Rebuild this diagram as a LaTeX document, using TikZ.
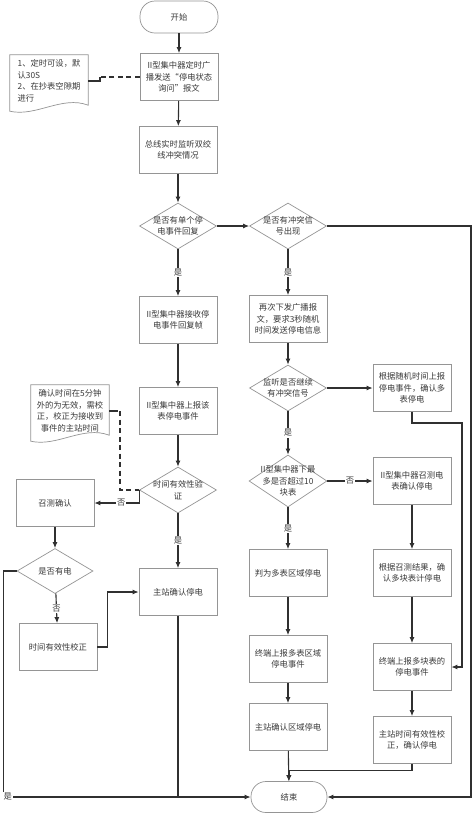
\documentclass[tikz,border=0pt]{standalone}
\usepackage{fontspec}
\setmainfont{Noto Sans CJK SC}
\usetikzlibrary{arrows.meta,shapes.geometric,calc}
\definecolor{boxgray}{HTML}{959595}
\definecolor{txt}{HTML}{3A3A3A}
\definecolor{conncol}{HTML}{303030}
\begin{document}
\begin{tikzpicture}[x=1pt,y=-1pt,
  box/.style={draw=boxgray, line width=0.7pt, minimum width=78pt, minimum height=47pt, align=center, font=\fontsize{8.3}{11.5}\selectfont, text=txt, inner sep=1pt},
  term/.style={box, rounded corners=15pt, minimum height=32pt},
  dec/.style={diamond, draw=boxgray, line width=0.7pt, minimum width=77pt, minimum height=46pt, inner sep=0pt},
  dtext/.style={align=center, font=\fontsize{8.3}{11.5}\selectfont, text=txt, inner sep=0pt},
  notebox/.style={minimum width=78pt, minimum height=52pt, align=left, font=\fontsize{8.3}{11.5}\selectfont, text=txt, inner sep=1pt},
  conn/.style={draw=conncol, line width=1.1pt, -{Latex[length=6pt,width=5pt]}},
  plain/.style={draw=conncol, line width=1.1pt},
  dashln/.style={draw=conncol, line width=1.1pt, dash pattern=on 5pt off 3.5pt},
  lbl/.style={fill=white, font=\fontsize{8.3}{9}\selectfont, text=txt, inner sep=1pt},
  docshape/.style={draw=boxgray, line width=0.7pt}
]
\useasboundingbox[fill=white] (0,0) rectangle (474,815);

% left/centre column
\node[term] (start) at (179,17) {开始};
\node[box] (b1) at (179,77) {II型集中器定时广\\播发送“停电状态\\询问”报文};
\node[notebox] (n1) at (49,81) {1、定时可设，默\\认30S\\2、在抄表空隙期\\进行};
\node[box] (b2) at (178,150) {总线实时监听双绞\\线冲突情况};
\node[dec, label={[dtext]center:是否有单个停\\电事件回复}] (d1) at (178,226) {};
\node[dec, label={[dtext]center:是否有冲突信\\号出现}] (d2) at (288,226) {};
\node[box] (b3) at (178,320) {II型集中器接收停\\电事件回复帧};
\node[box] (b4) at (178,411) {II型集中器上报该\\表停电事件};
\node[notebox, align=center] (n2) at (70,411) {确认时间在5分钟\\外的为无效，需校\\正，校正为接收到\\事件的主站时间};
\node[dec, label={[dtext]center:时间有效性验\\证}] (d3) at (178,490) {};
\node[box] (zc) at (55,503) {召测确认};
\node[dec, minimum width=76pt, minimum height=45pt, label={[dtext]center:是否有电}] (d4) at (55,571) {};
\node[box] (jz) at (58,647) {时间有效性校正};
\node[box] (zq) at (178,592) {主站确认停电};

% right columns
\node[box] (b5) at (288,319) {再次下发广播报\\文，要求3秒随机\\时间发送停电信息};
\node[dec, label={[dtext]center:监听是否继续\\有冲突信号}] (d5) at (288,388) {};
\node[box] (b6) at (412,388) {根据随机时间上报\\停电事件，确认多\\表停电};
\node[dec, minimum width=78pt, minimum height=52pt, label={[dtext]center:II型集中器下最\\多是否超过10\\块表}] (d6) at (288,481) {};
\node[box] (b7) at (412,481) {II型集中器召测电\\表确认停电};
\node[box] (b8) at (412,573) {根据召测结果，确\\认多块表计停电};
\node[box] (b9) at (412,667) {终端上报多块表的\\停电事件};
\node[box] (b10) at (412,740) {主站时间有效性校\\正，确认停电};
\node[box] (b11) at (288,573) {判为多表区域停电};
\node[box] (b12) at (288,659) {终端上报多表区域\\停电事件};
\node[box] (b13) at (288,727) {主站确认区域停电};
\node[term, minimum width=76pt, minimum height=31pt] (end) at (289,797) {结束};

% document shapes
\draw[docshape] (n1.south west) -- (n1.north west) -- (n1.north east) -- ($(n1.south east)+(0,-2)$)
  .. controls ($(n1.south east)+(-26,-12)$) and ($(n1.south west)+(26,10)$) .. ($(n1.south west)+(0,4)$) -- cycle;
\draw[docshape] (n2.south west) -- (n2.north west) -- (n2.north east) -- ($(n2.south east)+(0,-2)$)
  .. controls ($(n2.south east)+(-26,-12)$) and ($(n2.south west)+(26,10)$) .. ($(n2.south west)+(0,4)$) -- cycle;

\coordinate (k1) at (100,77);
\coordinate (k2) at (120,411);
\coordinate (rc) at (471,226);
\coordinate (rc2) at (462,423);

% annotation links
\draw[dashln] (b1.west) -- (k1);
\draw[plain] (k1) |- (n1.east);
\draw[plain] (n2.east) -- ($(k2)+(-2,0)$);
\draw[dashln] (k2) |- (d3.west);

% connectors
\draw[conn] (start) -- (b1);
\draw[conn] (b1) -- (b2);
\draw[conn] (b2) -- (d1);
\draw[conn] (d1) -- (d2);
\draw[conn] (d1) -- node[lbl]{是} (b3);
\draw[conn] (b3) -- (b4);
\draw[conn] (b4) -- (d3);
\draw[conn] (d3) -- node[lbl]{是} (zq);
\draw[conn] (d3.west) |- node[lbl, pos=0.7]{否} (zc.east);
\draw[conn] (zc) -- (d4);
\draw[conn] (d4) -- node[lbl]{否} (jz);
\draw[conn] (jz.east) -- ++(10,0) |- (zq.west);
\draw[conn] (d4.west) -- ++(-13,0) |- node[lbl, pos=0.5, xshift=4pt]{是} (end.west);
\draw[plain] (zq.south) -- (zq.south |- end.west);

\draw[conn] (d2) -- node[lbl]{是} (b5);
\draw[conn] (d2.east) -- (rc) |- (end.east);
\draw[conn] (b5) -- (d5);
\draw[conn] (d5) -- (b6);
\draw[conn] (d5) -- node[lbl]{是} (d6);
\draw[conn] (b6.south) |- (rc2) |- (b9.east);
\draw[conn] (d6) -- node[lbl]{否} (b7);
\draw[conn] (d6) -- node[lbl]{是} (b11);
\draw[conn] (b7) -- (b8);
\draw[conn] (b8) -- (b9);
\draw[conn] (b9) -- (b10);
\draw[conn] (b10.south) -- ++(0,7) -| (end.north);
\draw[conn] (b11) -- (b12);
\draw[conn] (b12) -- (b13);
\draw[conn] (b13) -- (end);
\end{tikzpicture}
\end{document}
